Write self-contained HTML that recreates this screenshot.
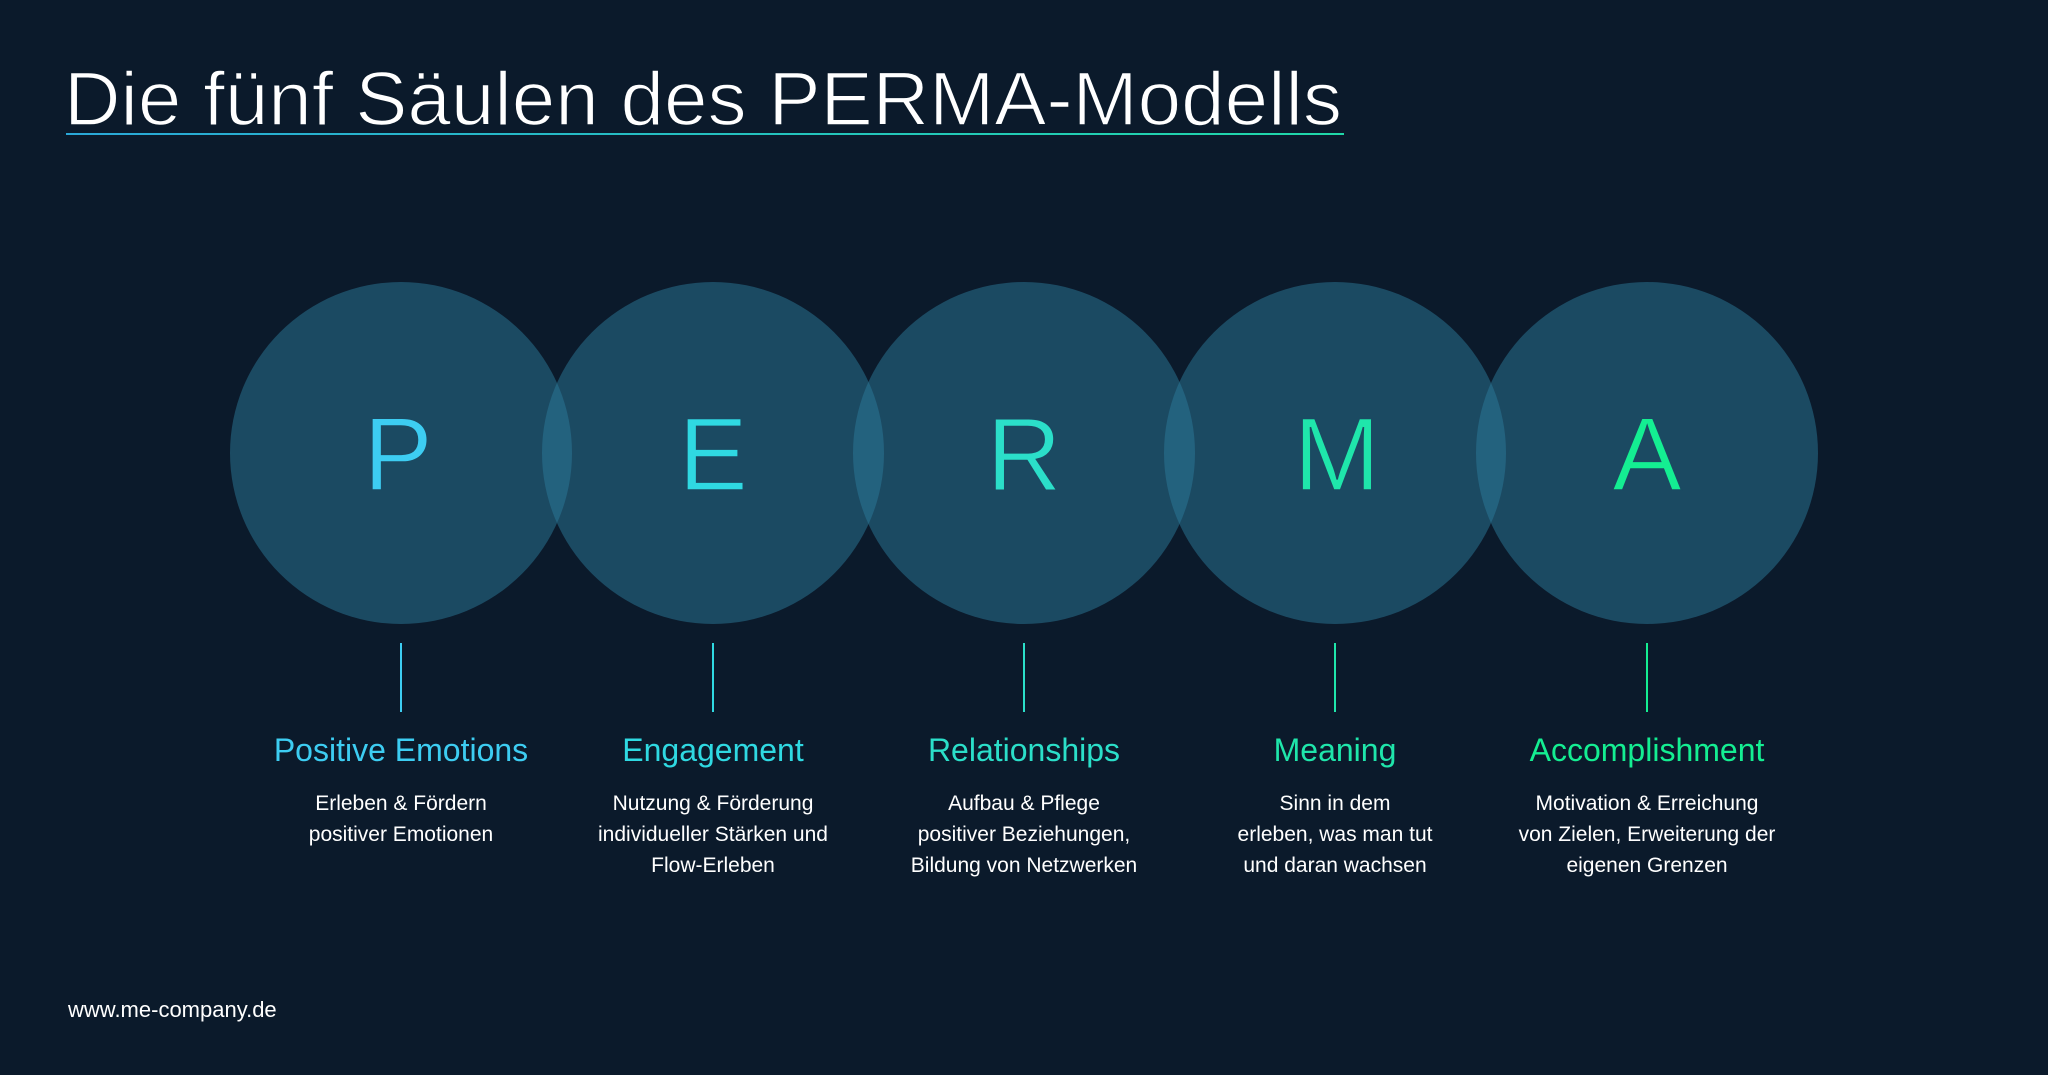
<!DOCTYPE html>
<html><head><meta charset="utf-8"><style>
html,body{margin:0;padding:0;background:#0b1a2b;}
svg{display:block}
text{font-family:"Liberation Sans",sans-serif;}
</style></head><body>
<svg width="2048" height="1075" viewBox="0 0 2048 1075" xmlns="http://www.w3.org/2000/svg">
<defs>
<linearGradient id="ul" x1="0" x2="1" y1="0" y2="0"><stop offset="0" stop-color="#2aa8d8"/><stop offset="1" stop-color="#20d8a8"/></linearGradient>
</defs>
<rect width="2048" height="1075" fill="#0b1a2b"/>
<text x="64" y="125" font-size="76" fill="#ffffff" stroke="#0b1a2b" stroke-width="1.5" paint-order="normal" textLength="1278" lengthAdjust="spacingAndGlyphs">Die fünf Säulen des PERMA-Modells</text>
<rect x="66" y="133" width="1278" height="2" fill="url(#ul)"/>
<g fill="#2b7a99" fill-opacity="0.5">
<circle cx="401" cy="453" r="171"/>
<circle cx="713" cy="453" r="171"/>
<circle cx="1024" cy="453" r="171"/>
<circle cx="1335" cy="453" r="171"/>
<circle cx="1647" cy="453" r="171"/>
</g>
<g font-size="104" text-anchor="middle" stroke="#1b4a62" stroke-width="1.5">
<text x="398" y="490" fill="#3dcdf2">P</text>
<text x="713" y="490" fill="#2fd9e2">E</text>
<text x="1024" y="490" fill="#2bdfc9">R</text>
<text x="1337" y="490" fill="#1fe6ab">M</text>
<text x="1647" y="490" fill="#14ee92">A</text>
</g>
<g stroke-width="2">
<line x1="401" y1="643" x2="401" y2="712" stroke="#3dcdf2"/>
<line x1="713" y1="643" x2="713" y2="712" stroke="#2fd9e2"/>
<line x1="1024" y1="643" x2="1024" y2="712" stroke="#2bdfc9"/>
<line x1="1335" y1="643" x2="1335" y2="712" stroke="#1fe6ab"/>
<line x1="1647" y1="643" x2="1647" y2="712" stroke="#14ee92"/>
</g>
<g font-size="32" text-anchor="middle">
<text x="401" y="761" fill="#3dcdf2">Positive Emotions</text>
<text x="713" y="761" fill="#2fd9e2">Engagement</text>
<text x="1024" y="761" fill="#2bdfc9">Relationships</text>
<text x="1335" y="761" fill="#1fe6ab">Meaning</text>
<text x="1647" y="761" fill="#14ee92">Accomplishment</text>
</g>
<g font-size="21" text-anchor="middle" fill="#ffffff">
<text x="401" y="810">Erleben &amp; Fördern</text>
<text x="401" y="841">positiver Emotionen</text>
<text x="713" y="810">Nutzung &amp; Förderung</text>
<text x="713" y="841">individueller Stärken und</text>
<text x="713" y="872">Flow-Erleben</text>
<text x="1024" y="810">Aufbau &amp; Pflege</text>
<text x="1024" y="841">positiver Beziehungen,</text>
<text x="1024" y="872">Bildung von Netzwerken</text>
<text x="1335" y="810">Sinn in dem</text>
<text x="1335" y="841">erleben, was man tut</text>
<text x="1335" y="872">und daran wachsen</text>
<text x="1647" y="810">Motivation &amp; Erreichung</text>
<text x="1647" y="841">von Zielen, Erweiterung der</text>
<text x="1647" y="872">eigenen Grenzen</text>
</g>
<text x="68" y="1017" font-size="22" fill="#ffffff">www.me-company.de</text>
</svg>
</body></html>
